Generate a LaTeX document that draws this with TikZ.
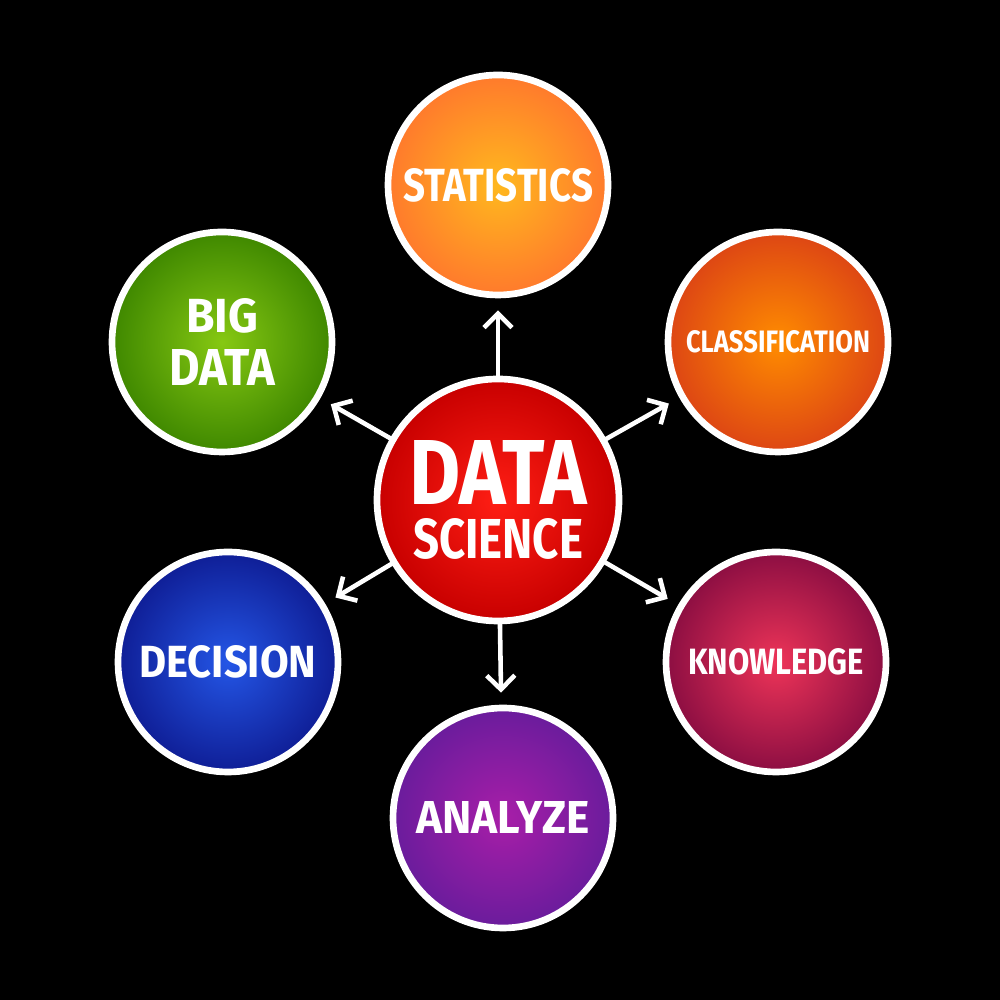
\documentclass[tikz,border=0pt]{standalone}
\usepackage{graphicx}
\usepackage{fontspec}
\setmainfont{Fira Sans}
\usepackage{tikz}
\usetikzlibrary{arrows.meta}

\definecolor{statin}{HTML}{FFB81E}
\definecolor{statout}{HTML}{FF7A2C}
\definecolor{classin}{HTML}{FF8C00}
\definecolor{classout}{HTML}{DD4614}
\definecolor{knowin}{HTML}{EE3458}
\definecolor{knowout}{HTML}{8C0E42}
\definecolor{anain}{HTML}{A81EA8}
\definecolor{anaout}{HTML}{6A1C9C}
\definecolor{decin}{HTML}{2456E6}
\definecolor{decout}{HTML}{0F1E96}
\definecolor{bigin}{HTML}{86C812}
\definecolor{bigout}{HTML}{3F8800}
\definecolor{corein}{HTML}{FF1E14}
\definecolor{coreout}{HTML}{C80000}

\newcommand{\fittext}[3]{\resizebox{#1cm}{#2cm}{\bfseries #3}}

\begin{document}
\begin{tikzpicture}[
	bubble/.style={circle, draw=white, line width=1.9pt, minimum size=2.2cm, inner sep=0pt, text=white, align=center, shading=radial},
	link/.style={draw=white, line width=1.3pt, line cap=round, -{Straight Barb[length=1.4mm, width=2.8mm, line width=1.3pt]}, shorten >=0.12cm}
	]
	\fill[black] (0,0) rectangle (10,10);
	
	\node[bubble, minimum size=2.42cm, inner color=corein, outer color=coreout] (core) at (4.98,5.0) {\fittext{1.78}{0.64}{DATA}\\[0.12cm]\fittext{1.70}{0.40}{SCIENCE}};
	
	\node[bubble, inner color=statin, outer color=statout] (stats) at (4.98,8.15) {\fittext{1.90}{0.33}{STATISTICS}};
	\node[bubble, inner color=classin, outer color=classout] (class) at (7.78,6.58) {\fittext{1.84}{0.22}{CLASSIFICATION}};
	\node[bubble, inner color=knowin, outer color=knowout] (know) at (7.76,3.38) {\fittext{1.76}{0.26}{KNOWLEDGE}};
	\node[bubble, inner color=anain, outer color=anaout] (analyze) at (5.03,1.82) {\fittext{1.73}{0.32}{ANALYZE}};
	\node[bubble, inner color=decin, outer color=decout] (decision) at (2.28,3.38) {\fittext{1.77}{0.32}{DECISION}};
	\node[bubble, inner color=bigin, outer color=bigout] (bigdata) at (2.22,6.58) {\fittext{0.72}{0.34}{BIG}\\[0.1cm]\fittext{1.06}{0.36}{DATA}};
	
	\draw[link] (core) -- (stats);
	\draw[link] (core) -- (class);
	\draw[link] (core) -- (know);
	\draw[link] (core) -- (analyze);
	\draw[link] (core) -- (decision);
	\draw[link] (core) -- (bigdata);
\end{tikzpicture}
\end{document}
